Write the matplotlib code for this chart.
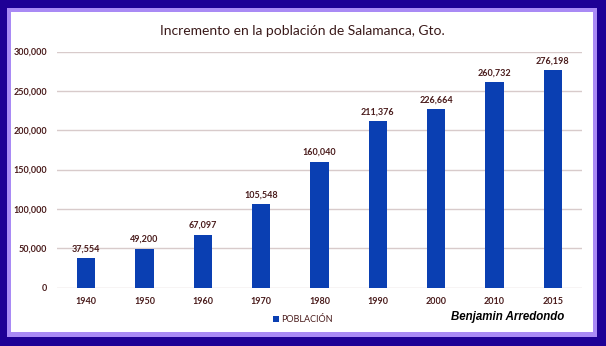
import matplotlib.pyplot as plt
from matplotlib.patches import Rectangle
from matplotlib.ticker import FuncFormatter

years = ["1940", "1950", "1960", "1970", "1980", "1990", "2000", "2010", "2015"]
poblacion = [37554, 49200, 67097, 105548, 160040, 211376, 226664, 260732, 276198]
y_ticks = [0, 50000, 100000, 150000, 200000, 250000, 300000]

BAR = "#0a3fb2"
TXT = "#4a1c1c"
W, H = 606, 346

plt.rcParams["font.family"] = ["Lato", "DejaVu Sans"]

fig = plt.figure(figsize=(W / 100, H / 100), dpi=100)
fig.patch.set_facecolor("#1e0096")
# lavender frame and white panel
fig.add_artist(Rectangle((7 / W, 9 / H), 590 / W, 329 / H,
                         transform=fig.transFigure, facecolor="#a98af5",
                         edgecolor="none", zorder=0))
fig.add_artist(Rectangle((11 / W, 14 / H), 582 / W, 320 / H,
                         transform=fig.transFigure, facecolor="white",
                         edgecolor="none", zorder=0))

ax = fig.add_axes([57 / W, 58.5 / H, 525 / W, 236 / H])
ax.set_facecolor("none")
x = range(len(years))
bars = ax.bar(x, poblacion, width=0.31, color=BAR, zorder=3)
for xi, v in zip(x, poblacion):
    ax.text(xi, v + 6000, f"{v:,}", ha="center", va="bottom",
            fontsize=6.5, color=TXT, fontweight="bold")

ax.set_xlim(-0.5, len(years) - 0.5)
ax.set_ylim(0, 300000)
ax.set_yticks(y_ticks)
ax.yaxis.set_major_formatter(FuncFormatter(lambda v, p: f"{int(v):,}"))
ax.set_xticks(list(x))
ax.set_xticklabels(years)
ax.grid(axis="y", color="#d8cbcb", linewidth=1.0, zorder=0)
for s in ax.spines.values():
    s.set_visible(False)
ax.tick_params(length=0, labelsize=6.5, labelcolor=TXT, pad=7)
for lab in ax.get_xticklabels() + ax.get_yticklabels():
    lab.set_fontweight("bold")

fig.text(302 / W, 1 - 31 / H, "Incremento en la población de Salamanca, Gto.",
         ha="center", va="center", fontsize=10, color="#3a1a1a")

leg = fig.legend([bars], ["POBLACIÓN"], loc="center", frameon=False,
                 bbox_to_anchor=(303 / W, 1 - 320 / H), fontsize=6.5,
                 handlelength=0.6, handleheight=0.6, handletextpad=0.3)
for t in leg.get_texts():
    t.set_color(TXT)

fig.text(564 / W, 1 - 317 / H, "Benjamin Arredondo", ha="right",
         va="center", fontsize=8.3, fontweight="bold", style="italic",
         color="black", family=["Liberation Sans", "DejaVu Sans"])

fig.savefig("out.png", dpi=100, facecolor=fig.get_facecolor())
